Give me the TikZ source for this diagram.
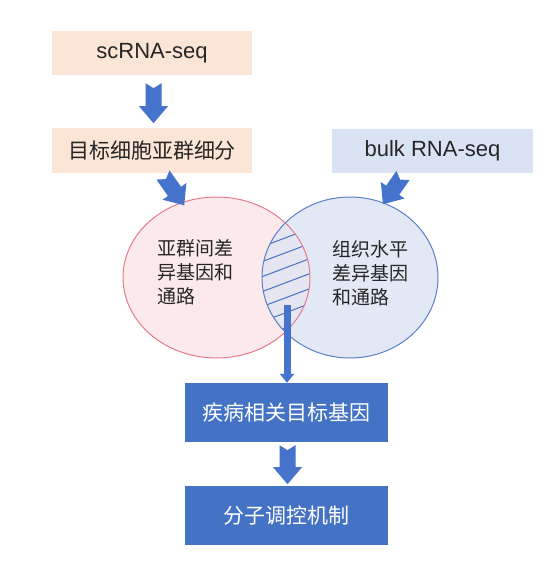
\documentclass[tikz,border=0pt]{standalone}
\usepackage{fontspec}
\setmainfont{Liberation Sans}
\newfontfamily\cjk{Noto Sans CJK SC}
\usetikzlibrary{shapes.geometric,arrows.meta,calc}
\definecolor{peach}{HTML}{FBE5D6}
\definecolor{lblue}{HTML}{DAE3F3}
\definecolor{mblue}{HTML}{4472C4}
\definecolor{ablue}{HTML}{4673CC}
\definecolor{pinkfill}{HTML}{FCE9EC}
\definecolor{pinkline}{HTML}{E57B8B}
\definecolor{bluefill}{HTML}{E2E9F5}
\definecolor{blueline}{HTML}{5B7FC8}
\definecolor{lensfill}{HTML}{E6E6F2}
\definecolor{txt}{HTML}{262626}
\tikzset{
  lightbox/.style={draw=none, inner sep=0pt, text=txt},
  darkbox/.style={draw=none, fill=mblue, inner sep=0pt, text=white, minimum width=203pt, minimum height=59pt, font=\cjk\fontsize{21}{25}\selectfont},
  latin/.style={font=\fontsize{22}{26}\selectfont},
  cjkbig/.style={font=\cjk\fontsize{21}{25}\selectfont},
  ctext/.style={align=left, text=txt, inner sep=0pt, font=\cjk\fontsize{19}{24}\selectfont},
  pics/barrow/.style={code={
    \fill[ablue] (-8,0) -- (0,5) -- (8,0) -- (8,#1-17) -- (14.5,#1-17) -- (0,#1) -- (-14.5,#1-17) -- (-8,#1-17) -- cycle;}}
}
\begin{document}
\begin{tikzpicture}[x=1pt,y=-1pt]
\useasboundingbox[fill=white] (0,0) rectangle (555,568);
% boxes
\node[lightbox, fill=peach, minimum width=200pt, minimum height=44pt, latin] (sc) at (152,53) {scRNA-seq};
\node[lightbox, fill=peach, minimum width=200pt, minimum height=45pt, cjkbig] (sub) at (152,150.5) {目标细胞亚群细分};
\node[lightbox, fill=lblue, minimum width=201pt, minimum height=44pt, latin] (bulk) at (432.5,151) {bulk RNA-seq};
% ellipses
\node[ellipse, fill=pinkfill, minimum width=187pt, minimum height=161pt, inner sep=0pt] (L) at (216.5,277.5) {};
\node[ellipse, fill=bluefill, minimum width=176pt, minimum height=161pt, inner sep=0pt] (R) at (350,277.5) {};
\begin{scope}
  \clip (216.5,277.5) ellipse [x radius=93.5, y radius=80.5];
  \fill[lensfill] (350,277.5) ellipse [x radius=88, y radius=80.5];
  \clip (350,277.5) ellipse [x radius=88, y radius=80.5];
  \foreach \k in {0,...,14} {
    \draw[mblue, line width=1pt] (240,{180+\k*15}) -- (330,{180+\k*15-34});
  }
\end{scope}
\draw[pinkline, line width=1pt] (216.5,277.5) ellipse [x radius=93.5, y radius=80.5];
\draw[blueline, line width=1pt] (350,277.5) ellipse [x radius=88, y radius=80.5];
\node[ctext] (Lt) at (195,272.5) {亚群间差\\异基因和\\通路};
\node[ctext] (Rt) at (370,273.5) {组织水平\\差异基因\\和通路};
% dark boxes
\node[darkbox] (dis) at (286.5,412.5) {疾病相关目标基因};
\node[darkbox] (mol) at (286.5,515.5) {分子调控机制};
% block arrows
\pic at ($(sc.south)+(1.5,8)$) {barrow=40};
\pic[rotate=35] at (163,175) {barrow=37};
\pic[rotate=-35] at (403,175.5) {barrow=35};
\pic at ($(dis.south)+(1,3)$) {barrow=39};
% connector from lens
\coordinate (vs) at (287,305);
\draw[ablue, line width=7pt, -{Triangle[width=14pt,length=9pt]}] (vs) -- (vs |- dis.north);
\end{tikzpicture}
\end{document}
